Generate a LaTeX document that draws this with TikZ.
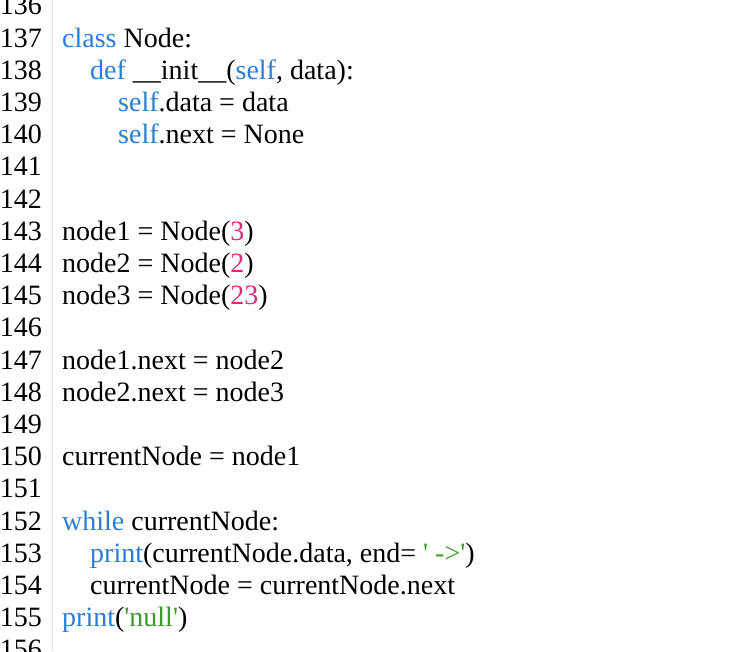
\documentclass[tikz,border=0pt]{standalone}
\usepackage{fontspec}
\setmainfont{Liberation Serif}
\definecolor{kw}{HTML}{2A7FD4}
\definecolor{num}{HTML}{E0287A}
\definecolor{str}{HTML}{3C9A2C}
\newcommand{\K}[1]{\textcolor{kw}{#1}}
\newcommand{\Nm}[1]{\textcolor{num}{#1}}
\newcommand{\Sg}[1]{\textcolor{str}{#1}}
\newcommand{\q}{\textquotesingle}
\begin{document}
\begin{tikzpicture}[x=1pt,y=1pt,
  ln/.style={anchor=base east,inner sep=0pt,font=\fontsize{28}{28}\selectfont},
  cd/.style={anchor=base west,inner sep=0pt,font=\fontsize{28}{28}\selectfont}]
\useasboundingbox (0,0) rectangle (750,-651);
\clip (0,0) rectangle (750,-651);
\fill[white] (0,0) rectangle (750,-651);
\draw[black!12,line width=1pt] (52,0) -- (52,-651);
\foreach \n in {136,...,156}{
  \node[ln] (l\n) at (42,{-47-(\n-137)*32.2}) {\n};
}
\newcommand{\code}[3]{\node[cd] (c#1) at (#2,{-47-(#1-137)*32.2}) {#3};}
\code{137}{62}{\K{class} Node:}
\code{138}{90}{\K{def} \_\_init\_\_(\K{self}, data):}
\code{139}{118}{\K{self}.data = data}
\code{140}{118}{\K{self}.next = None}
\code{143}{62}{node1 = Node(\Nm{3})}
\code{144}{62}{node2 = Node(\Nm{2})}
\code{145}{62}{node3 = Node(\Nm{23})}
\code{147}{62}{node1.next = node2}
\code{148}{62}{node2.next = node3}
\code{150}{62}{currentNode = node1}
\code{152}{62}{\K{while} currentNode:}
\code{153}{90}{\K{print}(currentNode.data, end= \Sg{\q{} ->\q})}
\code{154}{90}{currentNode = currentNode.next}
\code{155}{62}{\K{print}(\Sg{\q null\q})}
\end{tikzpicture}
\end{document}
